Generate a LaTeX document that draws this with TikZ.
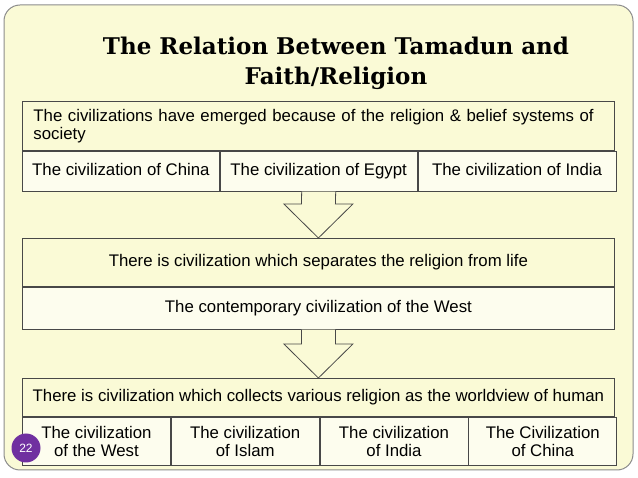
\documentclass[tikz,border=0pt]{standalone}
\usepackage{fontspec}
\setmainfont{Liberation Sans}
\newfontfamily\titlefont{DejaVu Serif}
\usetikzlibrary{positioning,calc}
\definecolor{slidebg}{RGB}{250,250,214}
\definecolor{cellbg}{RGB}{253,253,238}
\definecolor{cellline}{RGB}{72,72,72}
\definecolor{framegray}{RGB}{140,140,140}
\definecolor{numpurple}{RGB}{112,48,160}
\newcommand{\bodysize}{\fontsize{16.8}{18}\selectfont}
\newcommand{\downblock}[2]{%
  \draw[blockarrow] ($(#1.south)+(-17,0)$) -- ($(#2.north)+(-17,-34)$) -- ($(#2.north)+(-34.5,-34)$) -- (#2.north) -- ($(#2.north)+(34.5,-34)$) -- ($(#2.north)+(17,-34)$) -- ($(#1.south)+(17,0)$);}
\begin{document}
\begin{tikzpicture}[x=1pt, y=-1pt,
  cell/.style={draw=cellline, line width=0.8pt, rectangle, inner sep=0pt, anchor=north west, font=\bodysize, align=center},
  oneline/.style={text height=12pt, text depth=3.5pt},
  headcell/.style={cell, fill=slidebg},
  rowcell/.style={cell, fill=cellbg},
  blockarrow/.style={draw=cellline, line width=0.8pt, fill=slidebg}]
\useasboundingbox (0,0) rectangle (638,478);
\draw[framegray, line width=1pt, fill=slidebg, rounded corners=16pt] (4,5) rectangle (633,470);
\node[font=\titlefont\bfseries\fontsize{23}{30}\selectfont, align=center] (title) at (336,63) {The Relation Between Tamadun and\\Faith/Religion};
% first block
\node[headcell, minimum width=592pt, minimum height=49pt, align=left, text width=570pt] (emerge) at (22,101) {The civilizations have emerged because of the religion \& belief systems of\\society};
\node[rowcell, oneline, minimum width=197pt, minimum height=40pt] (china) at (emerge.south west) {The civilization of China};
\node[rowcell, oneline, minimum width=197pt, minimum height=40pt] (egypt) at (china.north east) {The civilization of Egypt};
\node[rowcell, oneline, minimum width=198pt, minimum height=40pt] (india) at (egypt.north east) {The civilization of India};
% second block
\node[headcell, oneline, minimum width=592pt, minimum height=48pt] (separate) at (22,238) {There is civilization which separates the religion from life};
\node[rowcell, oneline, minimum width=592pt, minimum height=42pt] (west) at (separate.south west) {The contemporary civilization of the West};
% third block
\node[headcell, oneline, minimum width=592pt, minimum height=38pt] (collect) at (22,378) {There is civilization which collects various religion as the worldview of human};
\node[rowcell, minimum width=148pt, minimum height=48pt] (cwest) at (collect.south west) {The civilization\\of the West};
\node[rowcell, minimum width=148pt, minimum height=48pt] (cislam) at (cwest.north east) {The civilization\\of Islam};
\node[rowcell, minimum width=148pt, minimum height=48pt] (cindia) at (cislam.north east) {The civilization\\of India};
\node[rowcell, minimum width=148pt, minimum height=48pt] (cchina) at (cindia.north east) {The Civilization\\of China};
\downblock{egypt}{separate}
\downblock{west}{collect}
\node[circle, fill=numpurple, minimum size=29pt, inner sep=0pt, text=white, font=\fontsize{12}{14}\selectfont] (pagenum) at (26,448) {22};
\end{tikzpicture}
\end{document}
